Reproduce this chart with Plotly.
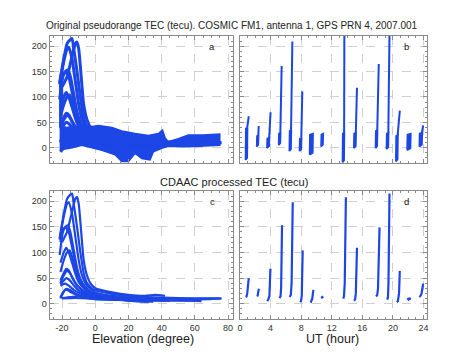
import plotly.graph_objects as go

# ---------------- data ----------------
# UT and TEC for each of 15 occultation passes (panel d, CDAAC processed)
d_t = [
    [0.74, 0.85, 0.95, 1.05, 1.15],
    [2.25, 2.32, 2.38, 2.47],
    [3.55, 3.70, 3.85, 3.92, 3.98],
    [5.15, 5.30, 5.38, 5.45, 5.50],
    [6.50, 6.65, 6.75, 6.83, 6.90],
    [7.87, 7.98, 8.08, 8.15, 8.20],
    [9.17, 9.30, 9.45, 9.60],
    [10.60, 10.75, 10.90],
    [13.50, 13.60, 13.70, 13.78, 13.85],
    [14.90, 15.05, 15.15, 15.25, 15.30],
    [17.80, 17.95, 18.05, 18.18, 18.25],
    [19.25, 19.35, 19.42, 19.50, 19.55],
    [20.50, 20.65, 20.80, 20.85, 20.90],
    [21.90, 22.05, 22.20, 22.35],
    [23.45, 23.60, 23.75, 23.85, 23.95],
]
d_tec = [
    [13, 14, 20, 35, 50],
    [14, 16, 22, 29],
    [5, 8, 15, 40, 68],
    [11, 14, 30, 95, 153],
    [13, 17, 40, 130, 198],
    [3, 5, 15, 80, 104],
    [5, 4, 10, 27],
    [11, 12, 14],
    [10, 14, 40, 150, 208],
    [6, 8, 20, 80, 109],
    [14, 17, 30, 110, 149],
    [8, 12, 40, 150, 215],
    [3, 5, 20, 45, 64],
    [11, 8, 10, 9],
    [13, 15, 20, 30, 39],
]

# Elevation vs TEC for the same passes (panel c)
c_elev = [
    [-21, -19, -17.5, -15.5, -13, -10, -6, 0, 10, 25, 45],
    [-21, -19.5, -18, -17, -15, -12, -8, -3, 0, 15, 40, 76],
    [-21, -19, -17.5, -16, -14, -11, -8, -4, 0, 10, 20, 32],
    [-21.5, -19.5, -18, -16.5, -15, -13, -11, -9, -6, -2, 5, 20, 40, 52],
    [-21.5, -19, -17, -16, -14, -12, -10, -8, -5, 0, 10, 20, 40, 64],
    [-21, -19, -17, -15.5, -14, -12, -10, -8, -5, 0, 10, 20, 32],
    [-21, -19.5, -18, -16.5, -14, -10, -5, 0, 20, 40, 60],
    [-20, -15, -10, -5, 0, 20, 50, 76],
    [-20, -17, -14, -12, -11, -10, -9, -8, -7, -5, -3, 0, 10, 20, 30, 36, 42],
    [-21, -19, -17.5, -16, -14, -12, -10, -7, -3, 0, 10, 30, 45],
    [-21, -19.5, -18, -16, -14, -12, -10, -8, -5, 0, 10, 25, 40, 55],
    [-21.5, -19, -17, -15, -14, -13, -11, -9, -7, -5, -2, 0, 10, 20, 30, 40, 60, 75],
    [-21, -19, -17, -15, -13, -10, -6, 0, 10, 20, 35],
    [-20, -12, -5, 0, 20, 50, 70],
    [-21, -19.5, -18, -16, -13, -9, -4, 0, 10, 30, 50],
]
c_tec = [
    [38, 45, 50, 46, 36, 26, 19, 14, 11, 9, 8],
    [12, 22, 28, 29, 26, 20, 15, 12, 11, 10, 10, 10],
    [45, 60, 68, 65, 52, 36, 27, 19, 14, 9, 6, 4],
    [95, 140, 150, 153, 140, 105, 70, 48, 32, 22, 15, 10, 8, 7],
    [125, 170, 195, 198, 175, 130, 85, 55, 35, 22, 15, 12, 9, 5],
    [62, 85, 100, 104, 92, 68, 48, 35, 25, 16, 10, 7, 4],
    [10, 20, 27, 26, 21, 15, 11, 9, 7, 6, 6],
    [11, 13, 14, 12, 10, 9, 9, 10],
    [120, 140, 180, 205, 208, 195, 160, 120, 85, 55, 40, 30, 22, 17, 15, 17, 15],
    [80, 100, 109, 100, 80, 58, 42, 30, 20, 16, 10, 7, 6],
    [120, 145, 149, 140, 110, 80, 55, 40, 28, 18, 12, 9, 8, 7],
    [128, 175, 205, 213, 215, 195, 150, 100, 60, 40, 30, 26, 19, 15, 13, 12, 10, 10],
    [40, 55, 64, 58, 45, 32, 22, 14, 9, 6, 4],
    [10, 11, 10, 9, 8, 8, 9],
    [35, 38, 39, 35, 27, 20, 15, 13, 11, 10, 10],
]

# Panel b (original pseudorange TEC): noisy low band + rising spike per pass
b_t0 = [0.72, 2.18, 3.52, 5.05, 6.45, 7.78, 9.10, 10.60, 13.40, 14.88, 17.72, 19.15, 20.38, 21.85, 23.45]
b_t1 = [0.95, 2.40, 3.82, 5.28, 6.68, 8.02, 9.52, 10.85, 13.62, 15.15, 17.95, 19.40, 20.62, 22.30, 23.80]
b_lo = [-24, 2, -1, 5, -7, -7, -14, 2, -29, -1, -1, -3, -27, -5, 2]
b_hi = [40, 25, 20, 30, 35, 20, 28, 28, 30, 30, 35, 30, 25, 28, 30]
b_tpk = [1.15, 2.45, 4.00, 5.45, 6.85, 8.15, None, None, 13.65, 15.30, 18.15, 19.55, 20.90, None, 23.95]
b_pk = [62, 43, 70, 161, 209, 111, None, None, 225, 118, 165, 225, 73, None, 44]

# Panel a: envelope of the dense low-TEC band and of the dense low-elevation cloud
a_band_elev = [-21.5, -18, -12, -6, -2, 2, 10, 16, 24, 32, 38, 40.5, 42, 44, 50, 56, 65, 75,
               75, 65, 56, 44, 40, 35, 33, 28, 24, 20, 16, 12, 4, -2, -8, -14, -19, -20.5, -21.5]
a_band_tec = [45, 40, 42, 44, 42, 44, 40, 33, 28, 24, 28, 35, 20, 12, 18, 25, 25, 27,
              5, 3, 2, 3, -1, -8, -24, -21, -11, -27, -27, -14, -5, 0, 5, 0, -3, -8, -5]
a_cloud_elev = [-21.5, -21.5, -20.8, -20, -19.5, -20.2, -20.5]
a_cloud_tec = [40, 135, 150, 140, 100, 60, 40]

elev_ticks = [-20, 0, 20, 40, 60, 80]
elev_ticktext = ["-20", "0", "20", "40", "60", "80"]
ut_ticks = [0, 4, 8, 12, 16, 20, 24]
tec_ticks = [0, 50, 100, 150, 200]

# ---------------- figure ----------------
BLUE = "#1c46e6"
OFF = 8                      # browser body margin
FW, FH = 474 - 2 * OFF, 355 - 2 * OFF


def px(x):
    return (x - OFF) / FW


def py(y):
    return 1 - (y - OFF) / FH


fig = go.Figure()


def joined(xs_list, ys_list):
    xs, ys = [], []
    for xx, yy in zip(xs_list, ys_list):
        xs += list(xx) + [None]
        ys += list(yy) + [None]
    return xs, ys


# panel a
fig.add_trace(go.Scatter(x=a_band_elev, y=a_band_tec, fill="toself", fillcolor=BLUE,
                         mode="lines", line=dict(color=BLUE, width=1.5),
                         xaxis="x", yaxis="y", hoverinfo="skip"))
fig.add_trace(go.Scatter(x=a_cloud_elev, y=a_cloud_tec, fill="toself", fillcolor=BLUE,
                         mode="lines", line=dict(color=BLUE, width=1),
                         xaxis="x", yaxis="y", hoverinfo="skip"))
xs, ys = joined(c_elev, c_tec)
fig.add_trace(go.Scatter(x=xs, y=ys, mode="lines",
                         line=dict(color=BLUE, width=3, shape="spline", smoothing=0.5),
                         xaxis="x", yaxis="y", hoverinfo="skip"))

# panel b
bx, by, sx, sy = [], [], [], []
for i in range(len(b_t0)):
    bx += [b_t0[i], b_t1[i], b_t1[i] + 0.04, b_t0[i] + 0.04, b_t0[i], None]
    by += [b_lo[i], b_lo[i] + 4, b_hi[i], b_hi[i] - 2, b_lo[i], None]
    if b_pk[i] is not None:
        sx += [b_t1[i], b_tpk[i], None]
        sy += [b_hi[i], b_pk[i], None]
fig.add_trace(go.Scatter(x=bx, y=by, fill="toself", fillcolor=BLUE, mode="lines",
                         line=dict(color=BLUE, width=1.6), xaxis="x2", yaxis="y2", hoverinfo="skip"))
fig.add_trace(go.Scatter(x=sx, y=sy, mode="lines", line=dict(color=BLUE, width=2),
                         xaxis="x2", yaxis="y2", hoverinfo="skip"))

# panel c
xs, ys = joined(c_elev, c_tec)
fig.add_trace(go.Scatter(x=xs, y=ys, mode="lines",
                         line=dict(color=BLUE, width=2.2, shape="spline", smoothing=0.5),
                         xaxis="x3", yaxis="y3", hoverinfo="skip"))

# panel d
xs, ys = joined(d_t, d_tec)
fig.add_trace(go.Scatter(x=xs, y=ys, mode="lines", line=dict(color=BLUE, width=2.2),
                         xaxis="x4", yaxis="y4", hoverinfo="skip"))

FRAME = "#8a8a8a"
TICKFONT = dict(family="Liberation Sans, Arial, sans-serif", size=9, color="#333")


def axis_common(**kw):
    d = dict(showline=True, linecolor=FRAME, linewidth=1, mirror="allticks",
             ticks="inside", ticklen=4, tickcolor=FRAME, tickwidth=1,
             showgrid=True, gridcolor="#d0d0d0", griddash="dash", gridwidth=1,
             zeroline=False, tickfont=TICKFONT, fixedrange=True)
    d.update(kw)
    return d


xl = [px(47), px(232)]
xr = [px(239), px(428)]
yt = [py(163), py(36)]
yb = [py(319), py(191)]

elev_minor = dict(ticks="inside", ticklen=2, tickcolor=FRAME, dtick=5, showgrid=False)
ut_minor = dict(ticks="inside", ticklen=2, tickcolor=FRAME, dtick=1, showgrid=False)
tec_minor = dict(ticks="inside", ticklen=2, tickcolor=FRAME, dtick=10, showgrid=False)

fig.update_layout(
    width=FW, height=FH, margin=dict(l=0, r=0, t=0, b=0),
    paper_bgcolor="white", plot_bgcolor="white", showlegend=False,
    font=dict(family="Liberation Sans, Arial, sans-serif", color="#222"),
    xaxis=axis_common(domain=xl, anchor="y", range=[-27.5, 83], tickvals=elev_ticks,
                      ticktext=elev_ticktext, showticklabels=False, minor=elev_minor),
    yaxis=axis_common(domain=yt, anchor="x", range=[-30, 220], tickvals=tec_ticks, minor=tec_minor),
    xaxis2=axis_common(domain=xr, anchor="y2", range=[0, 24.5], tickvals=ut_ticks,
                       showticklabels=False, minor=ut_minor),
    yaxis2=axis_common(domain=yt, anchor="x2", range=[-30, 220], tickvals=tec_ticks,
                       showticklabels=False, minor=tec_minor),
    xaxis3=axis_common(domain=xl, anchor="y3", range=[-27.5, 83], tickvals=elev_ticks,
                       ticktext=elev_ticktext, minor=elev_minor),
    yaxis3=axis_common(domain=yb, anchor="x3", range=[-30, 220], tickvals=tec_ticks, minor=tec_minor),
    xaxis4=axis_common(domain=xr, anchor="y4", range=[0, 24.5], tickvals=ut_ticks, minor=ut_minor),
    yaxis4=axis_common(domain=yb, anchor="x4", range=[-30, 220], tickvals=tec_ticks,
                       showticklabels=False, minor=tec_minor),
)

TXT = dict(family="Liberation Sans, Arial, sans-serif", color="#222")
ann = [
    dict(text="Original pseudorange TEC (tecu). COSMIC FM1, antenna 1, GPS PRN 4, 2007.001",
         x=px(231), y=py(26), font=dict(size=10, **TXT)),
    dict(text="CDAAC processed TEC (tecu)", x=px(233), y=py(181.5), font=dict(size=11, **TXT)),
    dict(text="Elevation (degree)", x=px(141), y=py(339), font=dict(size=12.5, **TXT)),
    dict(text="UT (hour)", x=px(332), y=py(339), font=dict(size=12.5, **TXT)),
]
for a in ann:
    a.update(xref="paper", yref="paper", showarrow=False, xanchor="center", yanchor="middle")
    fig.add_annotation(**a)

for lab, xr_, yr_ in [("a", "x", "y"), ("b", "x2", "y2"), ("c", "x3", "y3"), ("d", "x4", "y4")]:
    fig.add_annotation(text=lab, xref=xr_ + " domain", yref=yr_ + " domain", x=0.887, y=0.92,
                       showarrow=False, xanchor="center", yanchor="middle",
                       font=dict(size=9.5, **TXT))

fig.write_html("out.html")
